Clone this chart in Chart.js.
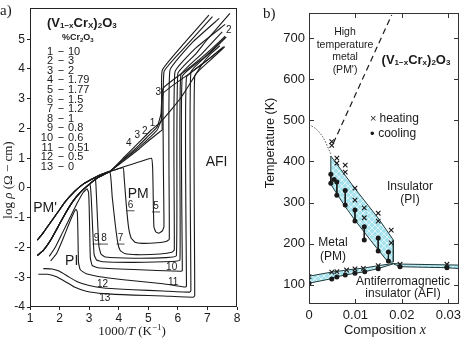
<!DOCTYPE html>
<html><head><meta charset="utf-8">
<script src="https://cdn.jsdelivr.net/npm/chart.js"></script>
<style>
html,body{margin:0;padding:0;background:#fff;}
#wrap{position:relative;width:474px;height:350px;overflow:hidden;background:#fff;}
#ca{position:absolute;left:0;top:0;}
#cb{position:absolute;left:240px;top:0;}
</style></head>
<body><div id="wrap"><canvas id="ca" width="240" height="350"></canvas><canvas id="cb" width="234" height="350"></canvas></div>
<script>
// ---------------- Panel a) data: log rho vs 1000/T ----------------
const leftXTicks = [1,2,3,4,5,6,7,8];
const leftYTicks = [-4,-3,-2,-1,0,1,2,3,4,5];
const legendNumbers = ['1','2','3','4','5','6','7','8','9','10','11','12','13'];
const legendPercents = ['10','3','2','1.79','1.77','1.5','1.2','1','0.8','0.6','0.51','0.5','0'];

const curve1 = [[1.25,-2.27],[1.45,-2.1],[1.7,-1.75],[1.95,-1.3],[2.2,-0.85],[2.45,-0.45],[2.7,-0.15],[2.95,0.08],[3.3,0.35],[3.7,0.55],[4.2,1.05],[4.7,1.55],[5.1,1.95],[5.4,2.2],[5.75,2.6],[6.12,3.06],[6.5,3.65],[6.8,4.13],[7.1,4.5],[7.42,4.78]];
const curve2 = [[1.25,-1.75],[1.45,-1.5],[1.7,-1.15],[1.95,-0.8],[2.2,-0.45],[2.5,-0.12],[2.8,0.13],[3.1,0.3],[3.4,0.45],[3.7,0.56],[4.2,1.0],[4.7,1.45],[5.0,1.75],[5.3,2.05],[5.43,2.5],[5.5,3.35],[6.4,4.05],[7.0,4.55],[7.6,5.1]];
const curve3 = [[1.25,-2.27],[1.45,-2.1],[1.7,-1.75],[1.95,-1.3],[2.2,-0.85],[2.45,-0.45],[2.7,-0.15],[2.95,0.08],[3.3,0.35],[3.7,0.55],[4.2,0.97],[4.7,1.38],[5.0,1.65],[5.3,1.95],[5.44,2.3],[5.5,3.18],[6.4,3.85],[7.0,4.3],[7.5,4.7]];
const curve4 = [[1.25,-1.75],[1.45,-1.5],[1.7,-1.15],[1.95,-0.8],[2.2,-0.45],[2.5,-0.12],[2.8,0.13],[3.1,0.3],[3.4,0.45],[3.7,0.56],[4.2,0.93],[4.7,1.32],[5.0,1.58],[5.4,1.9],[5.47,1.95],[5.47,3.95],[6.2,4.85],[7.05,5.81]];
const curve5 = [[1.25,-2.27],[1.45,-2.1],[1.7,-1.75],[1.95,-1.3],[2.2,-0.85],[2.45,-0.45],[2.7,-0.15],[2.95,0.08],[3.3,0.35],[3.7,0.55],[4.2,0.72],[4.7,0.88],[5.11,1.0],[5.15,0.6],[5.17,-0.5],[5.19,-1.3],[5.25,-1.47],[5.35,-1.52],[5.47,-1.45],[5.53,-1.3],[5.53,3.9],[6.3,4.8],[7.17,5.76]];
const curve6 = [[1.25,-1.75],[1.45,-1.5],[1.7,-1.15],[1.95,-0.8],[2.2,-0.45],[2.5,-0.12],[2.8,0.13],[3.1,0.3],[3.4,0.45],[3.7,0.56],[4.15,0.68],[4.18,0.4],[4.25,-0.5],[4.33,-1.3],[4.42,-1.68],[4.55,-1.82],[4.8,-1.86],[5.3,-1.84],[5.6,-1.8],[5.71,-1.72],[5.73,3.95],[6.5,4.9],[7.4,5.7]];
const curve7 = [[1.25,-2.27],[1.45,-2.1],[1.7,-1.75],[1.95,-1.3],[2.2,-0.85],[2.45,-0.45],[2.7,-0.15],[2.95,0.08],[3.3,0.35],[3.7,0.55],[3.78,-0.3],[3.88,-1.2],[3.97,-1.85],[4.05,-2.1],[4.2,-2.2],[4.6,-2.24],[5.4,-2.22],[5.8,-2.16],[5.88,-2.08],[5.9,3.9],[6.6,4.7],[7.6,5.5]];
const curve8 = [[1.25,-1.75],[1.45,-1.5],[1.7,-1.15],[1.95,-0.8],[2.2,-0.45],[2.5,-0.12],[2.8,0.13],[3.1,0.3],[3.2,0.34],[3.23,0.1],[3.28,-1.0],[3.33,-1.95],[3.4,-2.22],[3.55,-2.32],[4.5,-2.36],[5.6,-2.34],[5.95,-2.28],[6.0,3.85],[6.6,4.5],[7.0,5.0],[7.76,5.87]];
const curve9 = [[1.25,-2.27],[1.45,-2.1],[1.7,-1.75],[1.95,-1.3],[2.2,-0.85],[2.45,-0.45],[2.7,-0.15],[2.95,0.08],[3.03,0.12],[3.07,-0.3],[3.12,-1.4],[3.17,-2.25],[3.25,-2.42],[3.45,-2.48],[4.5,-2.5],[5.8,-2.47],[6.07,-2.42],[6.1,3.8],[6.8,4.5],[7.5,5.25]];
const curve10 = [[1.65,-2.3],[1.85,-2.0],[2.1,-1.5],[2.35,-1.0],[2.6,-0.5],[2.8,-0.15],[2.93,-0.03],[2.98,-0.15],[3.0,-0.6],[3.02,-1.5],[3.04,-2.35],[3.1,-2.6],[3.3,-2.68],[4.5,-2.74],[6.1,-2.8],[6.15,-2.78],[6.15,3.75],[6.9,4.4],[7.6,5.05]];
const curve11 = [[1.7,-2.45],[1.9,-2.2],[2.1,-1.75],[2.3,-1.25],[2.45,-0.9],[2.55,-0.72],[2.6,-0.8],[2.62,-1.5],[2.64,-2.5],[2.7,-2.75],[2.9,-2.88],[3.5,-3.0],[4.5,-3.12],[5.5,-3.22],[6.25,-3.33],[6.29,-3.3],[6.29,3.72],[7.0,4.3],[7.55,4.75]];
const curve12 = [[1.45,-2.71],[1.75,-2.72],[2.0,-2.8],[2.3,-2.98],[2.6,-3.15],[3.0,-3.28],[3.5,-3.36],[4.5,-3.42],[5.5,-3.46],[6.4,-3.5],[6.44,-3.45],[6.44,3.9],[7.1,4.55],[7.64,5.08]];
const curve13 = [[1.28,-2.9],[1.6,-2.9],[1.9,-2.98],[2.2,-3.15],[2.5,-3.33],[2.9,-3.47],[3.5,-3.55],[4.5,-3.6],[5.5,-3.63],[6.52,-3.67],[6.57,-3.62],[6.57,3.76],[7.1,4.3],[7.59,4.75]];
const curves = [curve1,curve2,curve3,curve4,curve5,curve6,curve7,curve8,curve9,curve10,curve11,curve12,curve13];

// curve labels: [text, x, y, underline]
const curveLabels = [['1',5.14,2.17,false],['2',4.88,1.92,false],['3',4.63,1.77,false],['4',4.34,1.52,false],
  ['3',5.34,3.23,false],['2',7.72,5.31,false],['5',5.26,-0.62,true],['6',4.40,-0.58,true],
  ['9',3.25,-1.7,true],['8',3.5,-1.7,true],['7',4.06,-1.7,true],['10',5.79,-2.68,false],
  ['11',5.84,-3.16,false],['12',3.45,-3.25,false],['13',3.53,-3.72,false]];
const regionLabelsA = [['AFI',7.31,0.88],['PM',4.66,-0.19],["PM'",1.51,-0.67],['PI',2.41,-2.47]];

// ---------------- Panel b) data: T vs composition ----------------
const rightXTicks = [0,0.01,0.02,0.03];
const rightYTicks = [100,200,300,400,500,600,700];
const coexRegion = [[0.0047,413],[0.0099,334],[0.0149,262],[0.01816,209],[0.01816,155.5],[0.01708,154.7],[0.0146,189],[0.0099,257],[0.0078,290],[0.0047,344],[0.0047,413]];
const afiBand = [[0,121],[0.0049,131],[0.006,132.5],[0.0081,136],[0.0099,138.5],[0.0117,140.5],[0.0149,146.5],[0.01816,152],[0.0196,150.5],[0.0323,148],
  [0.0323,139.5],[0.0297,141.6],[0.0196,144],[0.01816,151],[0.0149,139.5],[0.012,132],[0.0099,128],[0.0078,124],[0.006,119.5],[0.0049,115],[0,104],[0,121]];
const pmPrimeBoundary = [[0.00523,444],[0.01781,756]];
const dottedBoundary = [[0,490],[0.0015,479],[0.003,459],[0.0047,418]];
const heatingPts = [[0.0049,448],[0.0049,439],[0.006,408],[0.006,396],[0.0078,391],[0.0078,374],[0.0099,335],[0.0099,306],[0.0119,287],[0.0119,263],[0.0149,274],[0.0149,255],[0.0177,233],[0.0177,202],
  [0,120],[0.0049,131],[0.006,132],[0.0081,136],[0.0099,138.5],[0.0117,140],[0.0149,146.5],[0.0196,150],[0.0297,150]];
const coolingPts = [[0.0047,369],[0.0047,347],[0.0054,356],[0.006,350],[0.006,318],[0.0078,329],[0.0078,294],[0.0099,282],[0.0099,255],[0.0119,241],[0.0119,209],[0.0149,214],[0.0149,182],[0.0171,180],[0.0171,158],
  [0,104],[0.0049,114],[0.006,119],[0.0078,124],[0.0099,128],[0.012,132],[0.0149,139],[0.0196,144],[0.0297,141.6]];
const coolingBars = [[0.0047,369,347],[0.006,350,318],[0.0078,329,294],[0.0099,282,255],[0.0119,241,209],[0.0149,214,182],[0.0171,180,158]];

// ---------------- helpers ----------------
const SANS = '"Liberation Sans", Arial, sans-serif';
const SERIF = '"Liberation Serif", "Times New Roman", serif';
const INK = '#1a1a1a';
const pts = a => a.map(([x,y]) => ({x, y}));

function drawRuns(ctx, x, y, runs, align) {
  let w = 0;
  runs.forEach(r => { ctx.font = r[1]; w += ctx.measureText(r[0]).width; });
  let cx = align === 'center' ? x - w/2 : (align === 'right' ? x - w : x);
  ctx.textBaseline = 'middle'; ctx.textAlign = 'left';
  runs.forEach(r => { ctx.font = r[1]; ctx.fillText(r[0], cx, y + (r[2] || 0)); cx += ctx.measureText(r[0]).width; });
}
function formulaRuns(secondX) {
  const B = `bold 13px ${SANS}`, S = `bold 8px ${SANS}`;
  return [['(V',B],['1\u2212x',S,3],['Cr',B],[secondX,S,3],[')',B],['2',S,3],['O',B],['3',S,3]];
}
function hatchPattern() {
  const c = document.createElement('canvas'); c.width = 6; c.height = 6;
  const g = c.getContext('2d');
  g.fillStyle = '#a6e3ee'; g.fillRect(0,0,6,6);
  g.strokeStyle = 'rgba(255,255,255,0.75)'; g.lineWidth = 0.8;
  g.beginPath(); g.moveTo(0,6); g.lineTo(6,0); g.moveTo(0,0); g.lineTo(6,6); g.stroke();
  return g.createPattern(c, 'repeat');
}

// ---------------- Chart a ----------------
const panelA = {
  id: 'panelA',
  afterDraw(chart) {
    const {ctx, chartArea: a, scales: {x, y}} = chart;
    ctx.save();
    ctx.strokeStyle = '#222'; ctx.lineWidth = 1;
    ctx.strokeRect(a.left + 0.5, a.top + 0.5, a.right - a.left - 1, a.bottom - a.top - 1);
    ctx.fillStyle = INK;
    // panel tag
    drawRuns(ctx, 0, 11, [['a)', `15px ${SERIF}`]], 'left');
    // formula and legend
    drawRuns(ctx, 47, 23, formulaRuns('X'), 'left');
    drawRuns(ctx, 62, 38, [['%Cr',`bold 9px ${SANS}`],['2',`bold 6px ${SANS}`,2],['O',`bold 9px ${SANS}`],['3',`bold 6px ${SANS}`,2]], 'left');
    ctx.font = `11px ${SANS}`; ctx.textBaseline = 'middle';
    legendNumbers.forEach((n, i) => {
      const yy = 51.7 + i * 9.58;
      ctx.textAlign = 'right'; ctx.fillText(n, 53, yy);
      ctx.textAlign = 'center'; ctx.fillText('\u2212', 61, yy);
      ctx.textAlign = 'left'; ctx.fillText(legendPercents[i], 68, yy);
    });
    // curve labels
    ctx.font = `10px ${SANS}`; ctx.textAlign = 'center';
    curveLabels.forEach(([t, vx, vy, ul]) => {
      const px = x.getPixelForValue(vx), py = y.getPixelForValue(vy);
      ctx.fillText(t, px, py);
      if (ul) { ctx.beginPath(); ctx.lineWidth = 0.8; ctx.moveTo(px - 4, py + 5.5); ctx.lineTo(px + 4, py + 5.5); ctx.stroke(); }
    });
    ctx.font = `14px ${SANS}`;
    regionLabelsA.forEach(([t, vx, vy]) => ctx.fillText(t, x.getPixelForValue(vx), y.getPixelForValue(vy)));
    // axis titles
    drawRuns(ctx, 132, 332, [['1000/',`13px ${SERIF}`],['T',`italic 13px ${SERIF}`],[' (K',`13px ${SERIF}`],['\u22121',`9px ${SERIF}`,-4],[')',`13px ${SERIF}`]], 'center');
    ctx.save(); ctx.translate(9, 180); ctx.rotate(-Math.PI/2);
    drawRuns(ctx, 0, 0, [['log ',`13px ${SERIF}`],['\u03c1',`italic 13px ${SERIF}`],[' (\u03a9 \u2212 cm)',`13px ${SERIF}`]], 'center');
    ctx.restore();
    ctx.restore();
  }
};

new Chart(document.getElementById('ca'), {
  type: 'scatter',
  data: { datasets: curves.map(c => ({ data: pts(c), showLine: true, pointRadius: 0, borderColor: INK, borderWidth: 1.1, tension: 0.12, fill: false })) },
  options: {
    responsive: false, animation: false, events: [],
    layout: { padding: { top: 8, right: 3, left: 0, bottom: 0 } },
    plugins: { legend: { display: false }, tooltip: { enabled: false } },
    scales: {
      x: { type: 'linear', min: 1, max: 8,
        afterBuildTicks: s => { s.ticks = leftXTicks.map(v => ({ value: v })); },
        afterFit: s => { s.height = 43; s.paddingLeft = 0; s.paddingRight = 0; },
        grid: { drawOnChartArea: false, drawTicks: true, tickLength: 3, color: '#222' },
        border: { display: false },
        ticks: { padding: 1, color: INK, font: { family: SANS, size: 12 } } },
      y: { type: 'linear', min: -4, max: 6.05,
        afterBuildTicks: s => { s.ticks = leftYTicks.map(v => ({ value: v })); },
        afterFit: s => { s.width = 30; s.paddingTop = 0; s.paddingBottom = 0; },
        grid: { drawOnChartArea: false, drawTicks: true, tickLength: 3, color: '#222' },
        border: { display: false },
        ticks: { padding: 2, color: INK, font: { family: SANS, size: 12 } } }
    }
  },
  plugins: [panelA]
});

// ---------------- Chart b ----------------
const panelB = {
  id: 'panelB',
  afterDraw(chart) {
    const {ctx, chartArea: a, scales: {x, y}} = chart;
    ctx.save();
    ctx.strokeStyle = '#333'; ctx.lineWidth = 1;
    ctx.strokeRect(a.left + 0.5, a.top + 0.5, a.right - a.left - 1, a.bottom - a.top - 1);
    ctx.beginPath();
    rightYTicks.forEach(v => { const py = Math.round(y.getPixelForValue(v)) + 0.5;
      ctx.moveTo(a.left, py); ctx.lineTo(a.left + 5, py); ctx.moveTo(a.right - 5, py); ctx.lineTo(a.right, py); });
    rightXTicks.forEach(v => { const px = Math.round(x.getPixelForValue(v)) + 0.5;
      ctx.moveTo(px, a.bottom); ctx.lineTo(px, a.bottom - 5); ctx.moveTo(px, a.top); ctx.lineTo(px, a.top + 5); });
    ctx.stroke();
    ctx.fillStyle = INK;
    drawRuns(ctx, 23, 14, [['b)', `15px ${SERIF}`]], 'left');
    ctx.textAlign = 'center'; ctx.textBaseline = 'middle';
    ctx.font = `10.5px ${SANS}`;
    ctx.fillText('High', 105, 32); ctx.fillText('temperature', 105, 45); ctx.fillText('metal', 105, 57); ctx.fillText("(PM')", 105, 70);
    drawRuns(ctx, 176, 60, formulaRuns('x'), 'center');
    drawRuns(ctx, 130, 119, [['\u00d7 ', `11px ${SANS}`],['heating', `12px ${SANS}`]], 'left');
    drawRuns(ctx, 130, 134, [['\u2022 ', `13px ${SANS}`],['cooling', `12px ${SANS}`]], 'left');
    ctx.font = `12px ${SANS}`; ctx.textAlign = 'center';
    ctx.fillText('Insulator', 170, 187); ctx.fillText('(PI)', 170, 200);
    ctx.fillText('Metal', 93, 243); ctx.fillText('(PM)', 93, 257);
    ctx.fillText('Antiferromagnetic', 163, 282); ctx.fillText('insulator (AFI)', 163, 294);
    drawRuns(ctx, 145, 330, [['Composition ', `13px ${SANS}`],['x', `italic 14px ${SERIF}`]], 'center');
    ctx.save(); ctx.translate(31, 143); ctx.rotate(-Math.PI/2);
    drawRuns(ctx, 0, 0, [['Temperature (K)', `12.5px ${SANS}`]], 'center');
    ctx.restore();
    ctx.restore();
  }
};

const hatch = hatchPattern();
const barSets = coolingBars.map(([bx, y1, y2]) => ({ data: pts([[bx,y1],[bx,y2]]), showLine: true, pointRadius: 0, borderColor: INK, borderWidth: 1, order: 2 }));

new Chart(document.getElementById('cb'), {
  type: 'scatter',
  data: { datasets: [
    { data: pts(heatingPts), pointStyle: 'crossRot', pointRadius: 3.2, borderColor: INK, borderWidth: 1.1, showLine: false, order: 0 },
    { data: pts(coolingPts), pointStyle: 'circle', pointRadius: 2.5, backgroundColor: INK, borderColor: INK, borderWidth: 0, showLine: false, order: 0 },
    ...barSets,
    { data: pts(pmPrimeBoundary), showLine: true, pointRadius: 0, borderColor: INK, borderWidth: 1.2, borderDash: [6,4], order: 3 },
    { data: pts(dottedBoundary), showLine: true, pointRadius: 0, borderColor: '#444', borderWidth: 0.9, borderDash: [1.5,1.5], tension: 0.3, order: 3 },
    { data: pts(coexRegion), showLine: true, pointRadius: 0, borderColor: '#1f3a3a', borderWidth: 1, backgroundColor: hatch, fill: 'shape', order: 5 },
    { data: pts(afiBand), showLine: true, pointRadius: 0, borderColor: '#1f3a3a', borderWidth: 1, backgroundColor: hatch, fill: 'shape', order: 5 }
  ] },
  options: {
    responsive: false, animation: false, events: [],
    layout: { padding: { top: 13, right: 15, left: 0, bottom: 0 } },
    plugins: { legend: { display: false }, tooltip: { enabled: false } },
    scales: {
      x: { type: 'linear', min: 0, max: 0.0323,
        afterBuildTicks: s => { s.ticks = rightXTicks.map(v => ({ value: v })); },
        afterFit: s => { s.height = 46; s.paddingLeft = 0; s.paddingRight = 0; },
        grid: { display: false, drawTicks: false }, border: { display: false },
        ticks: { padding: 4, color: INK, font: { family: SANS, size: 13 }, callback: v => String(v) } },
      y: { type: 'linear', min: 53.4, max: 760.7,
        afterBuildTicks: s => { s.ticks = rightYTicks.map(v => ({ value: v })); },
        afterFit: s => { s.width = 69; s.paddingTop = 0; s.paddingBottom = 0; },
        grid: { display: false, drawTicks: false }, border: { display: false },
        ticks: { padding: 4, color: INK, font: { family: SANS, size: 13 } } }
    }
  },
  plugins: [panelB]
});
</script></body></html>
